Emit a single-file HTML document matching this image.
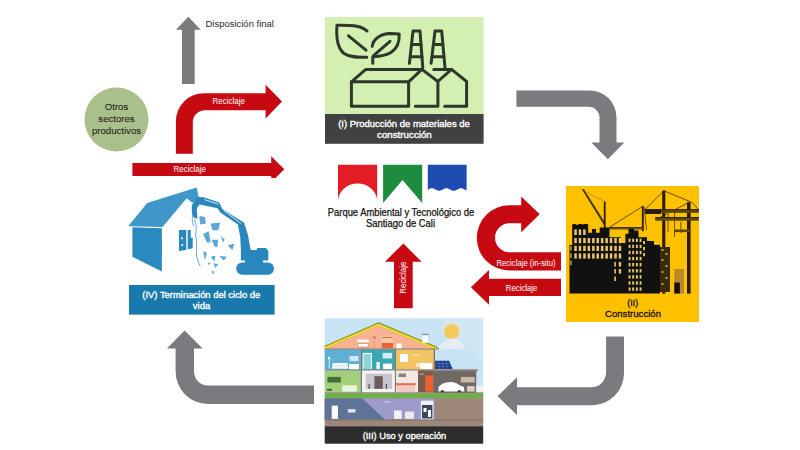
<!DOCTYPE html>
<html><head><meta charset="utf-8">
<style>
html,body{margin:0;padding:0;background:#fff;width:800px;height:450px;overflow:hidden}
svg{display:block;position:absolute;left:0;top:0}
text{font-family:"Liberation Sans",sans-serif}
</style></head><body>
<svg width="800" height="450" viewBox="0 0 800 450">

<!-- circle -->
<circle cx="116.5" cy="119.5" r="32" fill="#a9c08b"/>
<g fill="#222" font-size="9.6" text-anchor="middle" stroke="#222" stroke-width="0.08">
<text x="116.5" y="110">Otros</text>
<text x="116.5" y="122">sectores</text>
<text x="116.5" y="134">productivos</text>
</g>
<text x="205.5" y="27.2" font-size="9.7" fill="#2a2a2a" textLength="68.4" lengthAdjust="spacingAndGlyphs">Disposición final</text>
<!-- Box I -->
<rect x="325" y="17" width="158.5" height="97" fill="#d3efb2"/>
<rect x="325" y="114" width="158.6" height="29.8" fill="#414141"/>
<g fill="#fff" font-size="9.2" text-anchor="middle" stroke="#fff" stroke-width="0.35">
<text x="404" y="127.4" textLength="131.6" lengthAdjust="spacingAndGlyphs">(I) Producción de materiales de</text>
<text x="404.4" y="138.4" textLength="54.8" lengthAdjust="spacingAndGlyphs">construcción</text>
</g>

<g fill="none" stroke="#2e382a" stroke-width="3" stroke-linecap="round" stroke-linejoin="round">
<path d="M367,31 C362,26 355,25 337,25.2 C336,38 337,48 344,53.5 C350,57.5 358,57.4 366.7,57.2"/>
<path d="M348.5,35.8 L366,50.2"/>
<path d="M372.2,46.3 C373,39 381,33.6 390,33.5 L399.2,33.9 C399.5,40 398,48 391,52.5 C386,55.5 378,56.5 372.8,56.7 L372.8,63.3"/>
<path d="M373.8,55.4 L390,41.3"/>
<path d="M409.4,63.3 L413,31.1 L420,31.1 L422.8,67.8"/>
<path d="M411.5,44.4 L421,44.4 M410.5,56.7 L422,56.7"/>
<path d="M431.1,63.3 L435,31.1 L441.7,31.1 L445,67.8"/>
<path d="M433.4,44.4 L442.8,44.4 M432.2,56.7 L443.8,56.7"/>
<path d="M351.4,81.8 L365.8,69.4 L421.9,69.4 L408.6,81.8 Z"/>
<path d="M351.4,81.8 L351.4,106.2 L408.6,106.2 L408.6,81.8"/>
<path d="M421.9,69.4 L437.9,81.5 L437.9,106.2 L415.3,106.2"/>
<path d="M433.8,69.4 L451.5,69.4 L466.6,81.5 L466.6,106.2 L444.7,106.2"/>
<path d="M437.9,81.5 L451.5,69.4"/>
</g>
<!-- Box II -->
<rect x="566" y="186" width="133" height="136" fill="#ffc000"/>
<g fill="#1c1500" font-size="8.9" text-anchor="middle" stroke="#1c1500" stroke-width="0.3">
<text x="632.7" y="306">(II)</text>
<text x="633" y="316.8" textLength="56" lengthAdjust="spacingAndGlyphs">Construcción</text>
</g>

<!-- construction scene -->
<g stroke="#2a1c00" fill="none" stroke-width="0.7">
<path d="M604.7,201.5 L586,192" stroke="#8a6a10" stroke-width="0.5"/>
<path d="M642.8,206.2 L609.3,227.5 M644,206.2 L646.5,230"/>
<path d="M663.8,190.7 L645.1,209.5 M663.8,190.7 L691.8,202.3 M691.8,202.3 L698.8,210 M689,202.3 L660,217.5 M674.6,212.5 L674.6,237 M680.9,221.8 L680.9,233 M668,214 L668,232"/>
</g>
<g fill="#2a1c00">
<path d="M581.8,189.2 L583.8,189 L605.3,223 L603.6,224.6 Z" fill="#4a3405"/>
<rect x="603.8" y="201.5" width="1.8" height="26.5"/>
<rect x="641.9" y="206.2" width="1.8" height="25"/>
<rect x="609.3" y="227.2" width="33.5" height="2.3" fill="#6b5010"/>
<rect x="609.3" y="227.2" width="33.5" height="0.7"/>
<rect x="662.2" y="190.7" width="3.1" height="102.9"/>
<rect x="687" y="202.3" width="3.6" height="91.3"/>
<rect x="645.1" y="209.3" width="53.7" height="3.6" fill="#5e4608"/>
<rect x="645.1" y="209.3" width="53.7" height="0.9"/>
<rect x="645.1" y="209.3" width="16" height="4.7"/>
<rect x="655.2" y="217.1" width="43.6" height="3.6" fill="#5e4608"/>
<rect x="655.2" y="217.1" width="43.6" height="0.9"/>
<rect x="674.6" y="229.5" width="15.6" height="2.6" fill="#5e4608"/>
</g>
<rect x="674.3" y="269" width="9.7" height="24.6" fill="#b98a2c"/>
<rect x="674.3" y="282.5" width="5.6" height="11" fill="#111"/>
<path fill="#111" d="M569.5,292.3 L569.5,245 L572.2,245 L572.2,224.5 L575,223.8 L577,225 L580,223.8 L583,224.5 L586,223.8 L588.2,224.5 L588.2,232.8 L592,232.8 L592,229 L596,229 L596,232.8 L599.7,232.8 L599.7,227.4 L609.5,227.4 L609.5,237.2 L621,237.2 L621,243 L625.4,243 L625.4,233.7 L628.5,233.7 L628.5,228.8 L634,228.8 L634,230.5 L638.5,230.5 L638.5,237.3 L647,237.3 L647,241 L654,241 L654,244.7 L660,244.7 L660,293.6 L569.5,293.6 Z"/>
<path fill="#3a2a05" d="M660,247 L670,247 L670,292 L660,292 Z"/>
<g fill="#c9a040">
<rect x="661.5" y="249" width="2" height="2"/><rect x="665.5" y="253" width="2" height="2"/><rect x="661.5" y="259" width="2" height="2"/><rect x="665.5" y="265" width="2" height="2"/><rect x="661.5" y="271" width="2" height="2"/><rect x="665.5" y="277" width="2" height="2"/><rect x="661.5" y="283" width="2" height="2"/>
</g>
<g fill="#e9c46a">
<rect x="574.3" y="238" width="2.5" height="5.2"/>
<rect x="578.7" y="238" width="2.5" height="5.2"/>
<rect x="583.2" y="238" width="2.5" height="5.2"/>
<rect x="587.6" y="238" width="2.5" height="5.2"/>
<rect x="592.1" y="238" width="2.5" height="5.2"/>
<rect x="596.5" y="238" width="2.5" height="5.2"/>
<rect x="600.9" y="238" width="2.5" height="5.2"/>
<rect x="605.4" y="238" width="2.5" height="5.2"/>
<rect x="609.8" y="238" width="2.5" height="5.2"/>
<rect x="614.3" y="238" width="2.5" height="5.2"/>
<rect x="618.7" y="238" width="2.5" height="5.2"/>
<rect x="574.3" y="245.8" width="2.5" height="5.2"/>
<rect x="578.7" y="245.8" width="2.5" height="5.2"/>
<rect x="583.2" y="245.8" width="2.5" height="5.2"/>
<rect x="587.6" y="245.8" width="2.5" height="5.2"/>
<rect x="592.1" y="245.8" width="2.5" height="5.2"/>
<rect x="596.5" y="245.8" width="2.5" height="5.2"/>
<rect x="600.9" y="245.8" width="2.5" height="5.2"/>
<rect x="605.4" y="245.8" width="2.5" height="5.2"/>
<rect x="609.8" y="245.8" width="2.5" height="5.2"/>
<rect x="614.3" y="245.8" width="2.5" height="5.2"/>
<rect x="618.7" y="245.8" width="2.5" height="5.2"/>
<rect x="574.3" y="253.4" width="2.5" height="5.2"/>
<rect x="578.7" y="253.4" width="2.5" height="5.2"/>
<rect x="583.2" y="253.4" width="2.5" height="5.2"/>
<rect x="587.6" y="253.4" width="2.5" height="5.2"/>
<rect x="592.1" y="253.4" width="2.5" height="5.2"/>
<rect x="596.5" y="253.4" width="2.5" height="5.2"/>
<rect x="600.9" y="253.4" width="2.5" height="5.2"/>
<rect x="605.4" y="253.4" width="2.5" height="5.2"/>
<rect x="609.8" y="253.4" width="2.5" height="5.2"/>
<rect x="614.3" y="253.4" width="2.5" height="5.2"/>
<rect x="618.7" y="253.4" width="2.5" height="5.2"/>
<rect x="574.3" y="229.4" width="2.5" height="5.6"/>
<rect x="578.7" y="229.4" width="2.5" height="5.6"/>
<rect x="583.1" y="229.4" width="2.5" height="5.6"/>
<rect x="614.3" y="262" width="1.6" height="4.6"/>
<rect x="614.3" y="269" width="1.6" height="4.6"/>
<rect x="614.3" y="276.5" width="1.6" height="4.6"/>
<rect x="618.8" y="262" width="2.3" height="4.6"/>
<rect x="618.8" y="269" width="2.3" height="4.6"/>
<rect x="569.8" y="246" width="2" height="4.6" fill="#9c8650"/>
<rect x="569.8" y="253.4" width="2" height="4.6" fill="#9c8650"/>
<rect x="569.8" y="260.5" width="2" height="4.6" fill="#9c8650"/>
<rect x="628.6" y="238.6" width="1.9" height="3.4"/>
<rect x="632.2" y="238.6" width="1.9" height="3.4"/>
<rect x="635.9" y="238.6" width="1.9" height="3.4"/>
<rect x="639.6" y="238.6" width="1.9" height="3.4"/>
<rect x="628.6" y="244.7" width="1.9" height="3.4"/>
<rect x="632.2" y="244.7" width="1.9" height="3.4"/>
<rect x="635.9" y="244.7" width="1.9" height="3.4"/>
<rect x="639.6" y="244.7" width="1.9" height="3.4"/>
<rect x="628.6" y="250.8" width="1.9" height="3.4"/>
<rect x="632.2" y="250.8" width="1.9" height="3.4"/>
<rect x="635.9" y="250.8" width="1.9" height="3.4"/>
<rect x="639.6" y="250.8" width="1.9" height="3.4"/>
<rect x="628.6" y="256.9" width="1.9" height="3.4"/>
<rect x="632.2" y="256.9" width="1.9" height="3.4"/>
<rect x="635.9" y="256.9" width="1.9" height="3.4"/>
<rect x="639.6" y="256.9" width="1.9" height="3.4"/>
<rect x="628.6" y="263.0" width="1.9" height="3.4"/>
<rect x="632.2" y="263.0" width="1.9" height="3.4"/>
<rect x="635.9" y="263.0" width="1.9" height="3.4"/>
<rect x="639.6" y="263.0" width="1.9" height="3.4"/>
<rect x="628.6" y="269.1" width="1.9" height="3.4"/>
<rect x="632.2" y="269.1" width="1.9" height="3.4"/>
<rect x="635.9" y="269.1" width="1.9" height="3.4"/>
<rect x="639.6" y="269.1" width="1.9" height="3.4"/>
<rect x="628.6" y="275.2" width="1.9" height="3.4"/>
<rect x="632.2" y="275.2" width="1.9" height="3.4"/>
<rect x="635.9" y="275.2" width="1.9" height="3.4"/>
<rect x="639.6" y="275.2" width="1.9" height="3.4"/>
<rect x="628.6" y="281.3" width="1.9" height="3.4"/>
<rect x="632.2" y="281.3" width="1.9" height="3.4"/>
<rect x="635.9" y="281.3" width="1.9" height="3.4"/>
<rect x="639.6" y="281.3" width="1.9" height="3.4"/>
<rect x="628.6" y="287.4" width="1.9" height="3.4"/>
<rect x="632.2" y="287.4" width="1.9" height="3.4"/>
<rect x="635.9" y="287.4" width="1.9" height="3.4"/>
<rect x="639.6" y="287.4" width="1.9" height="3.4"/>
<rect x="643.2" y="241" width="1.8" height="3.2"/>
<rect x="643.2" y="247" width="1.8" height="3.2"/>
<rect x="643.2" y="253" width="1.8" height="3.2"/>
</g>
<!-- demolition -->
<path fill="#3f97c9" d="M128.2,226.3 L147.2,202.9 L196.7,187.4 L198.5,196.5 L193,203 L186.6,198.2 L162.5,226.9 Z"/>
<path fill="#2a8abf" d="M132.4,227.2 L161.9,228.2 L161.9,271.5 L132.4,256.8 Z"/>
<path fill="#2a87bd" d="M179,230 L186.3,230 L186.3,250 L179,251 Z M187.7,230 L190.7,230 L190.7,238 L192.7,237.4 L192.7,248.3 L187.7,249.2 Z"/>
<g fill="#fff"><circle cx="182" cy="238.3" r="1.1"/><circle cx="182.3" cy="245" r="1.1"/></g>
<g fill="none" stroke="#3f97c9" stroke-width="0.8">
<path d="M194.5,219 Q197,226 196.3,231 Q194.5,235 196.3,238 Q197,248 196.5,256 Q198,262 200.2,266"/>
<path d="M193,212 Q191,220 193.5,226"/>
</g>
<path fill="#2a87bd" d="M197.4,197 L203.7,197.2 L219.2,202.4 L222.3,209 L244.1,222.7 L248,235.1 L250.8,251 L241,251 L240.2,236.7 L237.9,224.6 L220,212.2 L217.7,208.2 L199.5,204.5 Q196,208 196.9,212 L197.5,218.8 L193.6,217.6 Q191,211 192,205 Z"/>
<path fill="none" stroke="#fff" stroke-width="0.8" d="M204.4,199.6 L218.4,204.2 M223.9,210.6 L241,223.6"/>
<path fill="#2a87bd" d="M240.9,250.1 L257,250.1 L257,248 L266,248 L268.3,251 L268.3,260.5 L240.9,260.5 Z"/>
<rect x="236.2" y="262.4" width="37.8" height="12.3" rx="6.1" fill="#2a87bd"/>
<rect x="245" y="259" width="18" height="4" fill="#2a87bd"/>
<g fill="#5aa7d6">
<path d="M199.3,216.1 L205,217 L205.9,223.6 L200.2,224.6 Z"/>
<path d="M210.6,223.6 L220.1,222.7 L218.2,230.2 L212.5,230.2 Z"/>
<path d="M203.1,234 L208.8,231.2 L210.6,242.5 L206.9,242.5 Z"/>
<path d="M211.6,239.7 L218.2,239.7 L217.3,247.3 L214.4,246.3 Z"/>
<path d="M221,235.9 L224.8,239.7 L222.9,242.5 Z"/>
<path d="M227.7,245.4 L234.3,243.5 L232.4,250.1 Z"/>
<path d="M203.1,251 L206.9,253 L205,260.5 Z"/>
<path d="M210.6,256.7 L215.4,255.8 L214.4,261.4 Z"/>
<path d="M219.1,255.8 L226.7,256.7 L223.9,260.5 Z"/>
<path d="M213.5,263.3 L218.2,264.3 L215.4,268 Z"/>
<path d="M211.6,270.9 L214.4,271.8 L213.1,274.7 Z"/>
<path d="M207.8,262.4 L210.6,263.3 L208.8,265.2 Z"/>
</g>
<!-- Box IV label -->
<rect x="129" y="285" width="145.6" height="29.6" fill="#1879ac"/>
<g fill="#fff" font-size="9.4" text-anchor="middle" stroke="#fff" stroke-width="0.35">
<text x="201.3" y="297.5" textLength="117.9" lengthAdjust="spacingAndGlyphs">(IV) Terminación del ciclo de</text>
<text x="201.5" y="309.1" textLength="17.5" lengthAdjust="spacingAndGlyphs">vida</text>
</g>
<!-- Box III -->
<rect x="324.7" y="318.2" width="158.5" height="108" fill="#c8e3f3"/>
<path d="M440,318.2 L483.2,318.2 L483.2,360 Z" fill="#d6ebf7" opacity="0.6"/>
<circle cx="451.7" cy="331.6" r="11" fill="#eae6d0" opacity="0.35"/>
<circle cx="451.7" cy="331.6" r="7.6" fill="#f5c85c"/>
<path d="M439,349 Q439,342 446,341.5 Q449,337 456,338.5 Q462,339 463,345 Q466,347 464,349 Z" fill="#e3eef5"/>
<!-- attic -->
<path d="M324.7,348 L378.7,324.5 L437,348.8 L324.7,348.8 Z" fill="#f6b293"/>
<path d="M324.7,347.2 L378.7,323.8 L437,348.4" fill="none" stroke="#8a8a2a" stroke-width="2.8"/>
<path d="M324.7,347.8 L378.7,324.4 L436,348.6" fill="none" stroke="#f2e11c" stroke-width="1.8"/>
<rect x="422.4" y="334.7" width="5.6" height="8" fill="#fff"/>
<rect x="421.8" y="333.8" width="6.8" height="1.4" fill="#8a9096"/>
<rect x="357" y="339.6" width="11.8" height="3" fill="#fff"/>
<rect x="357" y="342.6" width="11.8" height="5.5" fill="#e7a074"/>
<rect x="358" y="344" width="9.8" height="2.5" fill="#fff"/>
<rect x="372.5" y="336.5" width="3.5" height="2" fill="#e07a5a"/>
<rect x="373.8" y="338.5" width="0.8" height="9.5" fill="#e7a074"/>
<rect x="381.8" y="335.3" width="11.2" height="13" fill="#f9c6a8"/>
<rect x="381.8" y="343" width="11.2" height="5.3" fill="#e8643c"/>
<rect x="382.5" y="337" width="9.8" height="1" fill="#e8643c"/>
<rect x="396.5" y="343.5" width="5.5" height="5" fill="#fff"/>
<!-- floor 1 -->
<rect x="324.7" y="348.6" width="110.2" height="1.1" fill="#756a62"/>
<rect x="324.7" y="349.7" width="36" height="20" fill="#5fb1d4"/>
<rect x="360.7" y="349.7" width="1.3" height="20" fill="#7a7570"/>
<rect x="362" y="349.7" width="32.9" height="20" fill="#3ba7b3"/>
<rect x="394.9" y="349.7" width="1.1" height="20" fill="#7a7570"/>
<rect x="396" y="349.7" width="37.7" height="20" fill="#f2c464"/>
<rect x="433.7" y="348.6" width="1.3" height="44" fill="#8a6e55"/>
<rect x="437" y="348.4" width="2" height="0.8" fill="#756a62"/>
<g fill="#fff">
<rect x="328" y="357" width="2.2" height="2.2"/><rect x="328.8" y="359" width="0.7" height="10"/>
<rect x="332.5" y="363" width="15" height="2.6"/><rect x="332" y="365.6" width="16" height="3.2" fill="#e8f4f8"/>
<rect x="349.5" y="356" width="9" height="5" fill="#cfe8f2"/><rect x="349" y="364" width="10" height="5.5"/>
<rect x="362.6" y="352.9" width="9.3" height="16.3"/><rect x="363.6" y="354" width="7.3" height="15.2" fill="#8fd3d6"/>
<rect x="382.6" y="352.9" width="9.5" height="5.6" fill="#cfeef0"/>
<rect x="376.4" y="362" width="3.3" height="7.2"/><rect x="383.1" y="363.6" width="9" height="5.6"/>
<rect x="400" y="354" width="7.9" height="7.9"/><rect x="412" y="354.5" width="8" height="1.6" fill="#f8e2a0"/>
<rect x="416" y="363" width="6" height="4" fill="#fde8c0"/><rect x="420" y="363" width="12" height="6.2"/>
</g>
<!-- floor 0 -->
<rect x="324.7" y="369.5" width="110.2" height="1.1" fill="#756a62"/>
<rect x="324.7" y="370.6" width="36" height="21.8" fill="#a3cf7a"/>
<rect x="360.7" y="370.6" width="1.3" height="21.8" fill="#7a7570"/>
<rect x="362" y="370.6" width="32.9" height="21.8" fill="#f4f2f2"/>
<rect x="365.7" y="373.7" width="26.4" height="15.2" fill="#c9c5cc"/>
<rect x="374.4" y="376.2" width="8.4" height="12.6" fill="#6e5a58"/>
<rect x="394.9" y="370.6" width="1.1" height="21.8" fill="#7a7570"/>
<rect x="396" y="370.6" width="22" height="21.8" fill="#f4e6e2"/>
<rect x="418" y="370.6" width="15.7" height="21.8" fill="#7b5c4c"/>
<rect x="425.3" y="375.4" width="7.9" height="16.3" fill="#ec5f2e"/>
<rect x="419" y="373" width="5" height="2" fill="#a58070"/>
<rect x="398.5" y="373.5" width="7.5" height="3.5" fill="#8a8080"/>
<rect x="396" y="383.2" width="19.7" height="2.3" fill="#e86a50"/>
<rect x="397" y="385.5" width="18" height="6.5" fill="#f2c8c0"/>
<rect x="327.5" y="376.9" width="13.3" height="5.6" fill="#3f6e3a"/>
<rect x="342.2" y="385.3" width="14.7" height="6.3" fill="#e8f5dc"/>
<rect x="327" y="389" width="5" height="1.5" fill="#2e4a2e"/>
<rect x="368.5" y="384" width="1.2" height="5" fill="#4a4a40"/>
<rect x="385.8" y="384" width="1.2" height="5" fill="#4a4a40"/>
<!-- garage -->
<rect x="433.5" y="371" width="42.7" height="22" fill="#6f6864"/>
<rect x="434" y="369.3" width="43.6" height="2" fill="#8a7d75"/>
<path d="M435.1,360.8 L449.1,360.8 L452.7,368.9 L435.1,368.9 Z" fill="#1c3a86"/>
<path d="M435.1,363.5 L450.3,363.5 M435.1,366.2 L451.5,366.2 M438.8,360.8 L439.2,369 M442.4,360.8 L443.4,369 M446,360.8 L447.6,369" stroke="#6a9ad0" stroke-width="0.45" fill="none"/>
<path d="M438.4,391.6 L438.6,386.5 L443,383.5 Q446,381.8 452,382 Q457,382.5 460,385.5 L464,387 L464.3,391.6 Z" fill="#fff"/>
<circle cx="442.3" cy="391.5" r="1.6" fill="#333"/><circle cx="459.3" cy="391.5" r="1.6" fill="#333"/>
<rect x="460.8" y="376.9" width="14" height="5.6" fill="#cdb8a4"/>
<rect x="467" y="386" width="7.8" height="5.6" fill="#d8cbbf"/>
<rect x="476.2" y="386" width="7" height="7" fill="#eef2f4"/>
<!-- ground -->
<rect x="324.7" y="392.4" width="158.5" height="1.3" fill="#8a7a60"/>
<rect x="324.7" y="393.7" width="158.5" height="4.4" fill="#6cb146"/>
<rect x="324.7" y="398.1" width="158.5" height="28.1" fill="#9c8778"/>
<path d="M324.7,398.6 L362.5,398.6 L385,419.6 L324.7,419.6 Z" fill="#5e7398"/>
<path d="M362.5,398.6 L434.2,398.6 L434.2,419.6 L385,419.6 Z" fill="#9d9bcb"/>
<rect x="331.7" y="405.6" width="6.3" height="13.3" fill="#fff"/>
<rect x="347.8" y="409.1" width="7.7" height="3.5" fill="#dfe4ee"/>
<rect x="384" y="401.5" width="6" height="0.8" fill="#e0e0f0"/>
<rect x="394" y="410.5" width="7.7" height="8.4" fill="#f2f2f6"/>
<rect x="405" y="411.5" width="9" height="7.4" fill="#e9e9f0"/>
<rect x="420.9" y="400.7" width="12.6" height="18.9" fill="#f0f0f5"/>
<rect x="422" y="405" width="10.4" height="13.5" fill="#3d4660"/>
<rect x="423.5" y="408" width="3" height="4" fill="#fff"/><rect x="428" y="410" width="3" height="7" fill="#fff"/>
<rect x="324.7" y="419.6" width="158.5" height="0.8" fill="#7a6a5e"/>
<rect x="324.7" y="426.2" width="158.5" height="17.5" fill="#2d2d2d"/>
<text x="404.5" y="438.6" fill="#fff" font-size="9.5" stroke="#fff" stroke-width="0.35" text-anchor="middle" textLength="83.6" lengthAdjust="spacingAndGlyphs">(III) Uso y operación</text>
<!-- Parque logo -->
<path d="M338,164.7 L377.2,164.7 L377.2,201.3 A19.6,17.8 0 0 0 338,201.3 Z" fill="#e21d25"/>
<path d="M383.1,164.7 L422.2,164.7 L422.2,203 L402.5,179.9 L383.1,203 Z" fill="#1d8c3c"/>
<path d="M427.8,164.7 L466.6,164.7 L466.60,190.47 L465.63,190.03 L464.66,189.51 L463.69,188.98 L462.72,188.54 L461.75,188.27 L460.78,188.21 L459.81,188.37 L458.84,188.72 L457.87,189.21 L456.90,189.75 L455.93,190.25 L454.96,190.61 L453.99,190.79 L453.02,190.74 L452.05,190.49 L451.08,190.06 L450.11,189.53 L449.14,189.00 L448.17,188.56 L447.20,188.28 L446.23,188.20 L445.26,188.35 L444.29,188.70 L443.32,189.18 L442.35,189.72 L441.38,190.22 L440.41,190.60 L439.44,190.79 L438.47,190.75 L437.50,190.50 L436.53,190.08 L435.56,189.56 L434.59,189.03 L433.62,188.58 L432.65,188.29 L431.68,188.20 L430.71,188.34 L429.74,188.68 L428.77,189.16 L427.80,189.70 Z" fill="#1d4bb0"/>
<g fill="#111" font-size="10" text-anchor="middle" stroke="#111" stroke-width="0.25">
<text x="401" y="215.9" textLength="146.3" lengthAdjust="spacingAndGlyphs">Parque Ambiental y Tecnológico de</text>
<text x="400.5" y="227.1" textLength="69" lengthAdjust="spacingAndGlyphs">Santiago de Cali</text>
</g>
<!-- GRAY ARROWS -->
<g fill="#7a7b7f">
<path d="M182,84 L182,29.8 L176,29.8 L188.3,16.7 L200.7,29.8 L194.7,29.8 L194.7,84 Z"/>
<path d="M516.4,90.4 L589.5,90.4 A27,27 0 0 1 616.5,117.4 L616.5,142.4 L624.3,142.4 L607.8,159.2 L591.3,142.4 L599.5,142.4 L599.5,117.8 A11,11 0 0 0 588.5,106.8 L516.4,106.8 Z"/>
<path d="M314,385.6 L208,385.6 A14,14 0 0 1 194,371.6 L194,348.6 L202.6,348.6 L184.6,330.6 L167,348.6 L175.6,348.6 L175.6,371.6 A32.4,32.4 0 0 0 208,404 L314,404 Z"/>
<path d="M606.1,336.4 L624,336.4 L624,373.2 A32,32 0 0 1 592,405.2 L517,405.2 L517,415 L497.6,396.2 L517,377.2 L517,387.3 L591.1,387.3 A15,15 0 0 0 606.1,372.3 Z"/>
</g>
<!-- RED ARROWS -->
<g fill="#c70a12">
<path d="M175.9,153.7 L175.9,121.2 A28,28 0 0 1 203.9,93.2 L265.6,93.2 L265.6,84.8 L282,101.6 L265.6,118.5 L265.6,110.2 L204.8,110.2 A12,12 0 0 0 192.8,122.2 L192.8,153.7 Z"/>
<path d="M132.4,163.1 L271.2,163.1 L271.2,156.3 L284.3,169.3 L275.5,178 L271.2,178 L271.2,176 L132.4,176 Z"/>
<path d="M394,308.2 L394,261.7 L385,261.7 L403.4,243.5 L421.6,261.7 L412.7,261.7 L412.7,308.2 Z"/>
<path d="M561,270.6 L509.5,270.6 A32.7,32.7 0 0 1 509.5,205.2 L521.2,205.2 L521.2,196.6 L539.7,214.3 L521.2,232.3 L521.2,223.3 L509.5,223.3 A14.45,14.45 0 0 0 509.5,252.2 L561,252.2 Z"/>
<path d="M561,278.8 L489,278.8 L489,270 L470.9,287.3 L489,304.7 L489,296 L561,296 Z"/>
</g>
<!-- arrow labels -->
<g fill="#fff" font-size="8.6" text-anchor="middle">
<text x="228.8" y="104.3" textLength="32.4" lengthAdjust="spacingAndGlyphs">Reciclaje</text>
<text x="189.75" y="172.2" textLength="32.5" lengthAdjust="spacingAndGlyphs">Reciclaje</text>
<text x="526" y="265.7" textLength="59.2" lengthAdjust="spacingAndGlyphs">Reciclaje (in-situ)</text>
<text x="521.6" y="291.2" textLength="31.7" lengthAdjust="spacingAndGlyphs">Reciclaje</text>
<text transform="translate(405.7,277.7) rotate(-90)" x="0" y="0" textLength="32" lengthAdjust="spacingAndGlyphs">Reciclaje</text>
</g>
</svg>
</body></html>
